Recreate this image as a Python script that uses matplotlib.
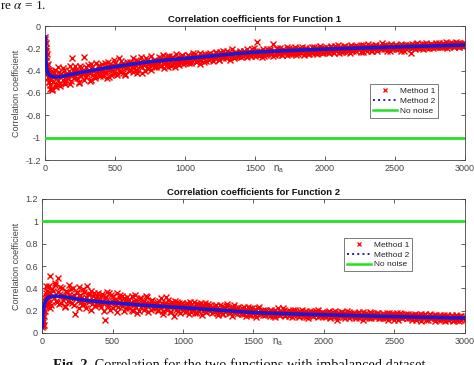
import numpy as np
import matplotlib
matplotlib.use("Agg")
import matplotlib.pyplot as plt
from matplotlib.lines import Line2D

# ---------------- data ----------------
titles = ["Correlation coefficients for Function 1", "Correlation coefficients for Function 2"]
legend_labels = ["Method 1", "Method 2", "No noise"]
xlabel_text = r"$\mathregular{n_a}$"
ylabel_text = "Correlation coefficient"

# Method 1 (scatter) sampled n_a positions
m1_n = np.arange(5, 3000, 10)
m1_n_b = np.arange(10, 3001, 10)
m1_n_early = [1, 2, 3, 4, 6, 8, 10, 12, 14, 17, 20, 23, 26, 30, 34, 38, 42, 48, 52, 58]

f1_m1 = [
    -0.20,-0.36,-0.47,-0.53,-0.40,-0.50,-0.42,-0.55,-0.45,-0.37,-0.51,-0.43,-0.48,-0.39,-0.52,-0.44,-0.47,-0.36,-0.49,-0.29,
    -0.44,-0.36,-0.47,-0.40,-0.50,-0.38,-0.43,-0.28,-0.41,-0.46,-0.35,-0.42,-0.48,-0.37,-0.40,-0.45,-0.33,-0.41,-0.44,-0.36,
    -0.39,-0.45,-0.33,-0.41,-0.36,-0.46,-0.34,-0.39,-0.43,-0.30,-0.37,-0.44,-0.35,-0.40,-0.31,-0.42,-0.36,-0.44,-0.32,-0.37,
    -0.39,-0.33,-0.29,-0.38,-0.35,-0.42,-0.31,-0.36,-0.28,-0.37,-0.33,-0.40,-0.30,-0.34,-0.38,-0.27,-0.33,-0.37,-0.30,-0.35,
    -0.34,-0.28,-0.36,-0.30,-0.26,-0.33,-0.29,-0.37,-0.27,-0.31,-0.35,-0.28,-0.30,-0.25,-0.33,-0.29,-0.32,-0.26,-0.34,-0.30,
    -0.28,-0.32,-0.26,-0.30,-0.33,-0.27,-0.29,-0.25,-0.31,-0.28,-0.24,-0.30,-0.27,-0.32,-0.26,-0.28,-0.25,-0.30,-0.27,-0.29,
    -0.26,-0.29,-0.23,-0.27,-0.30,-0.25,-0.28,-0.22,-0.26,-0.29,-0.24,-0.27,-0.25,-0.21,-0.26,-0.28,-0.23,-0.25,-0.27,-0.24,
    -0.24,-0.27,-0.22,-0.25,-0.21,-0.26,-0.23,-0.27,-0.24,-0.20,-0.25,-0.14,-0.23,-0.26,-0.22,-0.24,-0.27,-0.23,-0.21,-0.25,
    -0.23,-0.25,-0.16,-0.22,-0.26,-0.21,-0.24,-0.20,-0.23,-0.26,-0.22,-0.24,-0.19,-0.23,-0.25,-0.21,-0.24,-0.22,-0.19,-0.23,
    -0.25,-0.21,-0.23,-0.19,-0.22,-0.24,-0.20,-0.23,-0.25,-0.21,-0.19,-0.22,-0.24,-0.20,-0.23,-0.21,-0.18,-0.22,-0.24,-0.20,
    -0.19,-0.23,-0.20,-0.22,-0.18,-0.21,-0.24,-0.19,-0.21,-0.17,-0.22,-0.20,-0.23,-0.18,-0.21,-0.19,-0.22,-0.20,-0.17,-0.21,
    -0.20,-0.18,-0.22,-0.19,-0.21,-0.17,-0.20,-0.23,-0.18,-0.20,-0.16,-0.21,-0.19,-0.22,-0.18,-0.20,-0.17,-0.21,-0.19,-0.18,
    -0.15,-0.19,-0.21,-0.17,-0.20,-0.18,-0.22,-0.16,-0.19,-0.20,-0.17,-0.19,-0.21,-0.18,-0.16,-0.19,-0.22,-0.17,-0.19,-0.18,
    -0.17,-0.24,-0.16,-0.19,-0.18,-0.15,-0.19,-0.17,-0.20,-0.16,-0.18,-0.19,-0.15,-0.17,-0.20,-0.16,-0.18,-0.17,-0.19,-0.15,
    -0.18,-0.15,-0.17,-0.19,-0.16,-0.18,-0.14,-0.17,-0.19,-0.15,-0.17,-0.16,-0.18,-0.14,-0.17,-0.19,-0.15,-0.16,-0.18,-0.15,
]
f1_m1_b = [
    -0.28,-0.41,-0.50,-0.44,-0.56,-0.46,-0.39,-0.52,-0.48,-0.41,-0.54,-0.45,-0.38,-0.50,-0.43,-0.47,-0.40,-0.52,-0.44,-0.39,
    -0.47,-0.39,-0.43,-0.51,-0.36,-0.45,-0.41,-0.48,-0.37,-0.43,-0.40,-0.49,-0.34,-0.44,-0.39,-0.47,-0.42,-0.36,-0.45,-0.40,
    -0.34,-0.41,-0.37,-0.47,-0.32,-0.39,-0.44,-0.35,-0.40,-0.33,-0.42,-0.38,-0.29,-0.41,-0.36,-0.33,-0.43,-0.38,-0.34,-0.40,
    -0.32,-0.37,-0.41,-0.34,-0.30,-0.39,-0.33,-0.36,-0.42,-0.31,-0.35,-0.29,-0.38,-0.33,-0.31,-0.39,-0.35,-0.30,-0.37,-0.32,
    -0.31,-0.36,-0.29,-0.33,-0.38,-0.30,-0.27,-0.34,-0.31,-0.36,-0.28,-0.33,-0.37,-0.29,-0.32,-0.35,-0.27,-0.31,-0.29,-0.33,
    -0.30,-0.26,-0.33,-0.28,-0.31,-0.24,-0.29,-0.32,-0.27,-0.30,-0.34,-0.26,-0.29,-0.25,-0.31,-0.27,-0.30,-0.24,-0.28,-0.31,
    -0.28,-0.24,-0.26,-0.30,-0.23,-0.27,-0.29,-0.25,-0.28,-0.22,-0.27,-0.30,-0.24,-0.26,-0.29,-0.23,-0.27,-0.25,-0.22,-0.28,
    -0.26,-0.22,-0.25,-0.28,-0.23,-0.24,-0.27,-0.21,-0.25,-0.27,-0.23,-0.26,-0.22,-0.25,-0.28,-0.21,-0.24,-0.26,-0.23,-0.22,
    -0.21,-0.24,-0.27,-0.22,-0.24,-0.20,-0.25,-0.23,-0.26,-0.21,-0.24,-0.22,-0.26,-0.20,-0.23,-0.25,-0.21,-0.23,-0.26,-0.22,
    -0.23,-0.20,-0.24,-0.22,-0.26,-0.20,-0.22,-0.25,-0.21,-0.23,-0.24,-0.19,-0.22,-0.25,-0.21,-0.23,-0.20,-0.24,-0.21,-0.23,
    -0.22,-0.20,-0.24,-0.19,-0.21,-0.23,-0.18,-0.22,-0.20,-0.24,-0.19,-0.21,-0.22,-0.18,-0.23,-0.20,-0.21,-0.24,-0.19,-0.22,
    -0.19,-0.22,-0.18,-0.21,-0.20,-0.23,-0.17,-0.21,-0.19,-0.22,-0.20,-0.18,-0.22,-0.19,-0.21,-0.17,-0.22,-0.19,-0.20,-0.21,
    -0.20,-0.17,-0.19,-0.22,-0.18,-0.20,-0.17,-0.21,-0.19,-0.17,-0.21,-0.18,-0.20,-0.22,-0.17,-0.20,-0.18,-0.21,-0.17,-0.19,
    -0.18,-0.20,-0.17,-0.21,-0.16,-0.19,-0.20,-0.17,-0.19,-0.21,-0.16,-0.18,-0.20,-0.17,-0.19,-0.16,-0.20,-0.18,-0.17,-0.19,
    -0.16,-0.19,-0.17,-0.15,-0.19,-0.17,-0.20,-0.16,-0.18,-0.17,-0.15,-0.19,-0.17,-0.18,-0.15,-0.19,-0.16,-0.18,-0.17,-0.16,
]
f1_m1_early = [-0.10,-0.12,-0.18,-0.22,-0.15,-0.27,-0.31,-0.25,-0.35,-0.40,-0.34,-0.46,-0.39,-0.50,-0.43,-0.56,-0.47,-0.41,-0.57,-0.45]

f2_m1 = [
    0.12,0.26,0.36,0.30,0.41,0.51,0.25,0.38,0.31,0.43,0.28,0.49,0.35,0.27,0.40,0.32,0.24,0.37,0.29,0.34,
    0.39,0.27,0.34,0.17,0.36,0.29,0.41,0.31,0.25,0.37,0.30,0.22,0.35,0.28,0.38,0.26,0.33,0.24,0.31,0.36,
    0.30,0.23,0.35,0.27,0.12,0.32,0.26,0.36,0.21,0.29,0.33,0.25,0.30,0.19,0.28,0.34,0.24,0.27,0.31,0.22,
    0.29,0.22,0.27,0.33,0.20,0.25,0.30,0.18,0.26,0.31,0.23,0.28,0.21,0.27,0.32,0.19,0.25,0.29,0.22,0.26,
    0.22,0.28,0.20,0.25,0.31,0.17,0.24,0.27,0.21,0.30,0.23,0.19,0.26,0.15,0.24,0.28,0.20,0.25,0.22,0.27,
    0.24,0.19,0.27,0.22,0.17,0.25,0.21,0.28,0.18,0.23,0.26,0.20,0.24,0.16,0.22,0.27,0.19,0.23,0.21,0.25,
    0.18,0.23,0.20,0.25,0.16,0.21,0.19,0.24,0.17,0.22,0.20,0.26,0.18,0.21,0.15,0.23,0.19,0.22,0.17,0.20,
    0.21,0.17,0.19,0.23,0.15,0.20,0.18,0.22,0.16,0.19,0.21,0.14,0.18,0.22,0.17,0.20,0.16,0.19,0.21,0.17,
    0.19,0.15,0.21,0.17,0.20,0.14,0.18,0.22,0.16,0.19,0.17,0.21,0.15,0.18,0.20,0.16,0.19,0.14,0.18,0.21,
    0.16,0.19,0.14,0.18,0.21,0.15,0.17,0.20,0.13,0.18,0.16,0.19,0.15,0.17,0.20,0.14,0.18,0.16,0.19,0.15,
    0.18,0.14,0.17,0.20,0.13,0.16,0.19,0.15,0.17,0.12,0.18,0.16,0.19,0.14,0.17,0.15,0.20,0.13,0.16,0.18,
    0.15,0.18,0.13,0.16,0.19,0.14,0.17,0.12,0.16,0.18,0.14,0.15,0.19,0.13,0.16,0.17,0.14,0.18,0.15,0.13,
    0.16,0.13,0.17,0.14,0.18,0.12,0.15,0.17,0.13,0.16,0.14,0.18,0.12,0.15,0.17,0.13,0.16,0.14,0.15,0.17,
    0.13,0.16,0.12,0.15,0.17,0.13,0.14,0.16,0.11,0.15,0.13,0.17,0.14,0.12,0.16,0.13,0.15,0.14,0.11,0.16,
    0.14,0.12,0.16,0.13,0.15,0.11,0.14,0.16,0.12,0.13,0.15,0.11,0.14,0.16,0.12,0.13,0.15,0.12,0.14,0.13,
]
f2_m1_b = [
    0.20,0.31,0.42,0.27,0.35,0.22,0.39,0.33,0.45,0.29,0.37,0.26,0.41,0.34,0.30,0.23,0.38,0.32,0.43,0.28,
    0.33,0.40,0.25,0.31,0.37,0.22,0.34,0.28,0.39,0.26,0.32,0.42,0.29,0.35,0.21,0.30,0.36,0.27,0.33,0.25,
    0.26,0.33,0.29,0.20,0.31,0.37,0.24,0.28,0.34,0.22,0.30,0.27,0.36,0.23,0.31,0.26,0.33,0.20,0.29,0.32,
    0.24,0.30,0.26,0.21,0.29,0.34,0.23,0.27,0.20,0.31,0.25,0.29,0.22,0.33,0.24,0.27,0.21,0.30,0.26,0.23,
    0.26,0.21,0.29,0.23,0.27,0.20,0.25,0.32,0.22,0.26,0.19,0.28,0.24,0.29,0.21,0.25,0.27,0.18,0.24,0.22,
    0.21,0.26,0.20,0.24,0.28,0.19,0.23,0.21,0.26,0.18,0.25,0.22,0.27,0.20,0.24,0.19,0.23,0.26,0.20,0.22,
    0.22,0.19,0.24,0.18,0.21,0.25,0.20,0.17,0.23,0.19,0.24,0.21,0.18,0.23,0.20,0.25,0.18,0.21,0.23,0.19,
    0.18,0.22,0.17,0.20,0.19,0.23,0.16,0.20,0.22,0.18,0.16,0.21,0.19,0.23,0.17,0.19,0.21,0.16,0.20,0.18,
    0.17,0.20,0.18,0.15,0.21,0.17,0.19,0.16,0.20,0.18,0.22,0.16,0.19,0.17,0.15,0.20,0.18,0.21,0.16,0.18,
    0.18,0.15,0.20,0.16,0.17,0.19,0.14,0.18,0.16,0.20,0.17,0.15,0.19,0.16,0.18,0.21,0.15,0.17,0.18,0.16,
    0.15,0.17,0.19,0.14,0.16,0.18,0.15,0.20,0.14,0.17,0.15,0.19,0.16,0.18,0.13,0.17,0.16,0.19,0.15,0.17,
    0.17,0.14,0.16,0.18,0.13,0.17,0.15,0.19,0.14,0.16,0.17,0.13,0.18,0.15,0.17,0.14,0.16,0.18,0.13,0.16,
    0.14,0.17,0.15,0.13,0.16,0.18,0.14,0.15,0.17,0.12,0.16,0.15,0.14,0.18,0.13,0.16,0.15,0.17,0.13,0.15,
    0.15,0.13,0.16,0.14,0.12,0.16,0.15,0.13,0.17,0.14,0.16,0.12,0.15,0.14,0.17,0.13,0.15,0.16,0.13,0.14,
    0.13,0.15,0.12,0.14,0.16,0.13,0.15,0.12,0.14,0.13,0.16,0.12,0.14,0.15,0.13,0.11,0.15,0.13,0.14,0.12,
]
f2_m1_early = [0.05,0.08,0.12,0.06,0.18,0.10,0.22,0.07,0.25,0.15,0.29,0.20,0.33,0.24,0.38,0.27,0.31,0.42,0.26,0.36]

# Method 2 (line)
f1_m2_n = [1, 3, 6, 10, 15, 20, 30, 45, 60, 86, 120, 160, 200, 300, 443, 600, 750, 914, 1100, 1300, 1486, 1700, 2000, 2250, 2500, 2750, 3000]
f1_m2 = [-0.10,-0.22,-0.30,-0.36,-0.40,-0.42,-0.44,-0.45,-0.455,-0.457,-0.452,-0.44,-0.43,-0.405,-0.375,-0.345,-0.32,-0.30,-0.28,-0.255,-0.235,-0.222,-0.207,-0.197,-0.188,-0.179,-0.17]
f2_m2_n = [1, 3, 6, 10, 15, 20, 30, 45, 60, 80, 110, 150, 200, 300, 400, 500, 700, 1000, 1250, 1500, 1800, 2100, 2400, 2700, 3000]
f2_m2 = [0.05,0.11,0.17,0.21,0.25,0.27,0.30,0.32,0.325,0.33,0.33,0.325,0.315,0.295,0.28,0.27,0.25,0.227,0.205,0.183,0.17,0.16,0.15,0.142,0.134]

# No-noise reference
no_noise = [-1.0, 1.0]
x_range = [0, 3000]

y_ticks_1 = [-1.2, -1.0, -0.8, -0.6, -0.4, -0.2, 0.0]
y_ticks_2 = [0.0, 0.2, 0.4, 0.6, 0.8, 1.0, 1.2]
x_ticks = [0, 500, 1000, 1500, 2000, 2500, 3000]

top_text = r"re $\alpha$ = 1."
caption_bold = "Fig. 2."
caption_rest = " Correlation for the two functions with imbalanced dataset."

# ---------------- style ----------------
plt.rcParams["font.family"] = ["Liberation Sans", "DejaVu Sans"]
plt.rcParams["mathtext.fontset"] = "custom"
plt.rcParams["mathtext.rm"] = "Liberation Sans"
plt.rcParams["mathtext.it"] = "Liberation Sans:italic"

RED = "#ff0000"
BLUE = "#1a1ad6"
GREEN = "#22e022"
AXC = "#444444"

W, H = 474, 365
fig = plt.figure(figsize=(W / 100, H / 100), dpi=100)

def px_axes(l, t, r, b):
    return [l / W, 1 - b / H, (r - l) / W, (b - t) / H]

ax1 = fig.add_axes(px_axes(45, 26, 465, 160))
ax2 = fig.add_axes(px_axes(42, 199, 465, 333))

panels = [
    (ax1, f1_m1, f1_m1_b, f1_m1_early, f1_m2_n, f1_m2, no_noise[0], y_ticks_1, titles[0], (0.774, 0.565)),
    (ax2, f2_m1, f2_m1_b, f2_m1_early, f2_m2_n, f2_m2, no_noise[1], y_ticks_2, titles[1], (0.714, 0.71)),
]

mk = dict(ls="none", marker="x", ms=4.2, mew=1.0, color=RED, zorder=2)
for ax, m1, m1b, m1e, m2n, m2, nn, yt, title, legpos in panels:
    ax.plot(m1_n, m1, **mk)
    ax.plot(m1_n_b, m1b, **mk)
    ax.plot(m1_n_early, m1e, **mk)
    ax.plot(m2n, m2, ls="-", lw=2.6, color=BLUE, zorder=3)
    ax.plot(x_range, [nn, nn], ls="-", lw=2.0, color=GREEN, zorder=3)
    ax.set_xlim(0, 3000)
    ax.set_ylim(min(yt), max(yt))
    ax.set_xticks(x_ticks)
    ax.set_xticklabels([str(v) for v in x_ticks])
    ax.set_yticks(yt)
    ax.set_yticklabels([("%g" % v) for v in yt])
    ax.tick_params(direction="in", length=3, width=0.6, colors=AXC, labelsize=6.5,
                   top=True, right=True, pad=3)
    for s in ax.spines.values():
        s.set_color(AXC)
        s.set_linewidth(0.6)
    ax.set_title(title, fontsize=6.8, fontweight="bold", pad=3, color="#111111")
    ax.set_ylabel(ylabel_text, fontsize=6.5, color=AXC, labelpad=3)
    handles = [
        Line2D([], [], ls="none", marker="x", ms=3.2, mew=0.9, color=RED),
        Line2D([], [], ls=":", lw=1.4, color=BLUE),
        Line2D([], [], ls="-", lw=1.8, color=GREEN),
    ]
    leg = ax.legend(handles, legend_labels, loc="upper left", bbox_to_anchor=legpos,
                    fontsize=6.0, frameon=True, fancybox=False, framealpha=1,
                    edgecolor="#666666", borderpad=0.35, labelspacing=0.25,
                    handlelength=2.9, handletextpad=0.3, borderaxespad=0)
    leg.get_frame().set_linewidth(0.6)
    for t in leg.get_texts():
        t.set_color("#222222")
    ax.text(0.557, -0.065, xlabel_text, transform=ax.transAxes, fontsize=7,
            color=AXC, ha="center", va="center")

# top fragment of running text
fig.text(0 / W, 1 - 9 / H, top_text, fontsize=9.5, family="Liberation Serif",
         math_fontfamily="stix", ha="left", va="baseline", color="#111111")

# caption (cut off at the bottom, as in the source)
fig.canvas.draw()
t1 = fig.text(53 / W, 1 - 369 / H, caption_bold, fontsize=10.4, family="Liberation Serif",
              fontweight="bold", ha="left", va="baseline", color="#111111")
fig.canvas.draw()
bb = t1.get_window_extent()
fig.text(bb.x1 / W, 1 - 369 / H, caption_rest, fontsize=10.4, family="Liberation Serif",
         ha="left", va="baseline", color="#111111")

fig.savefig("out.png", dpi=100)
